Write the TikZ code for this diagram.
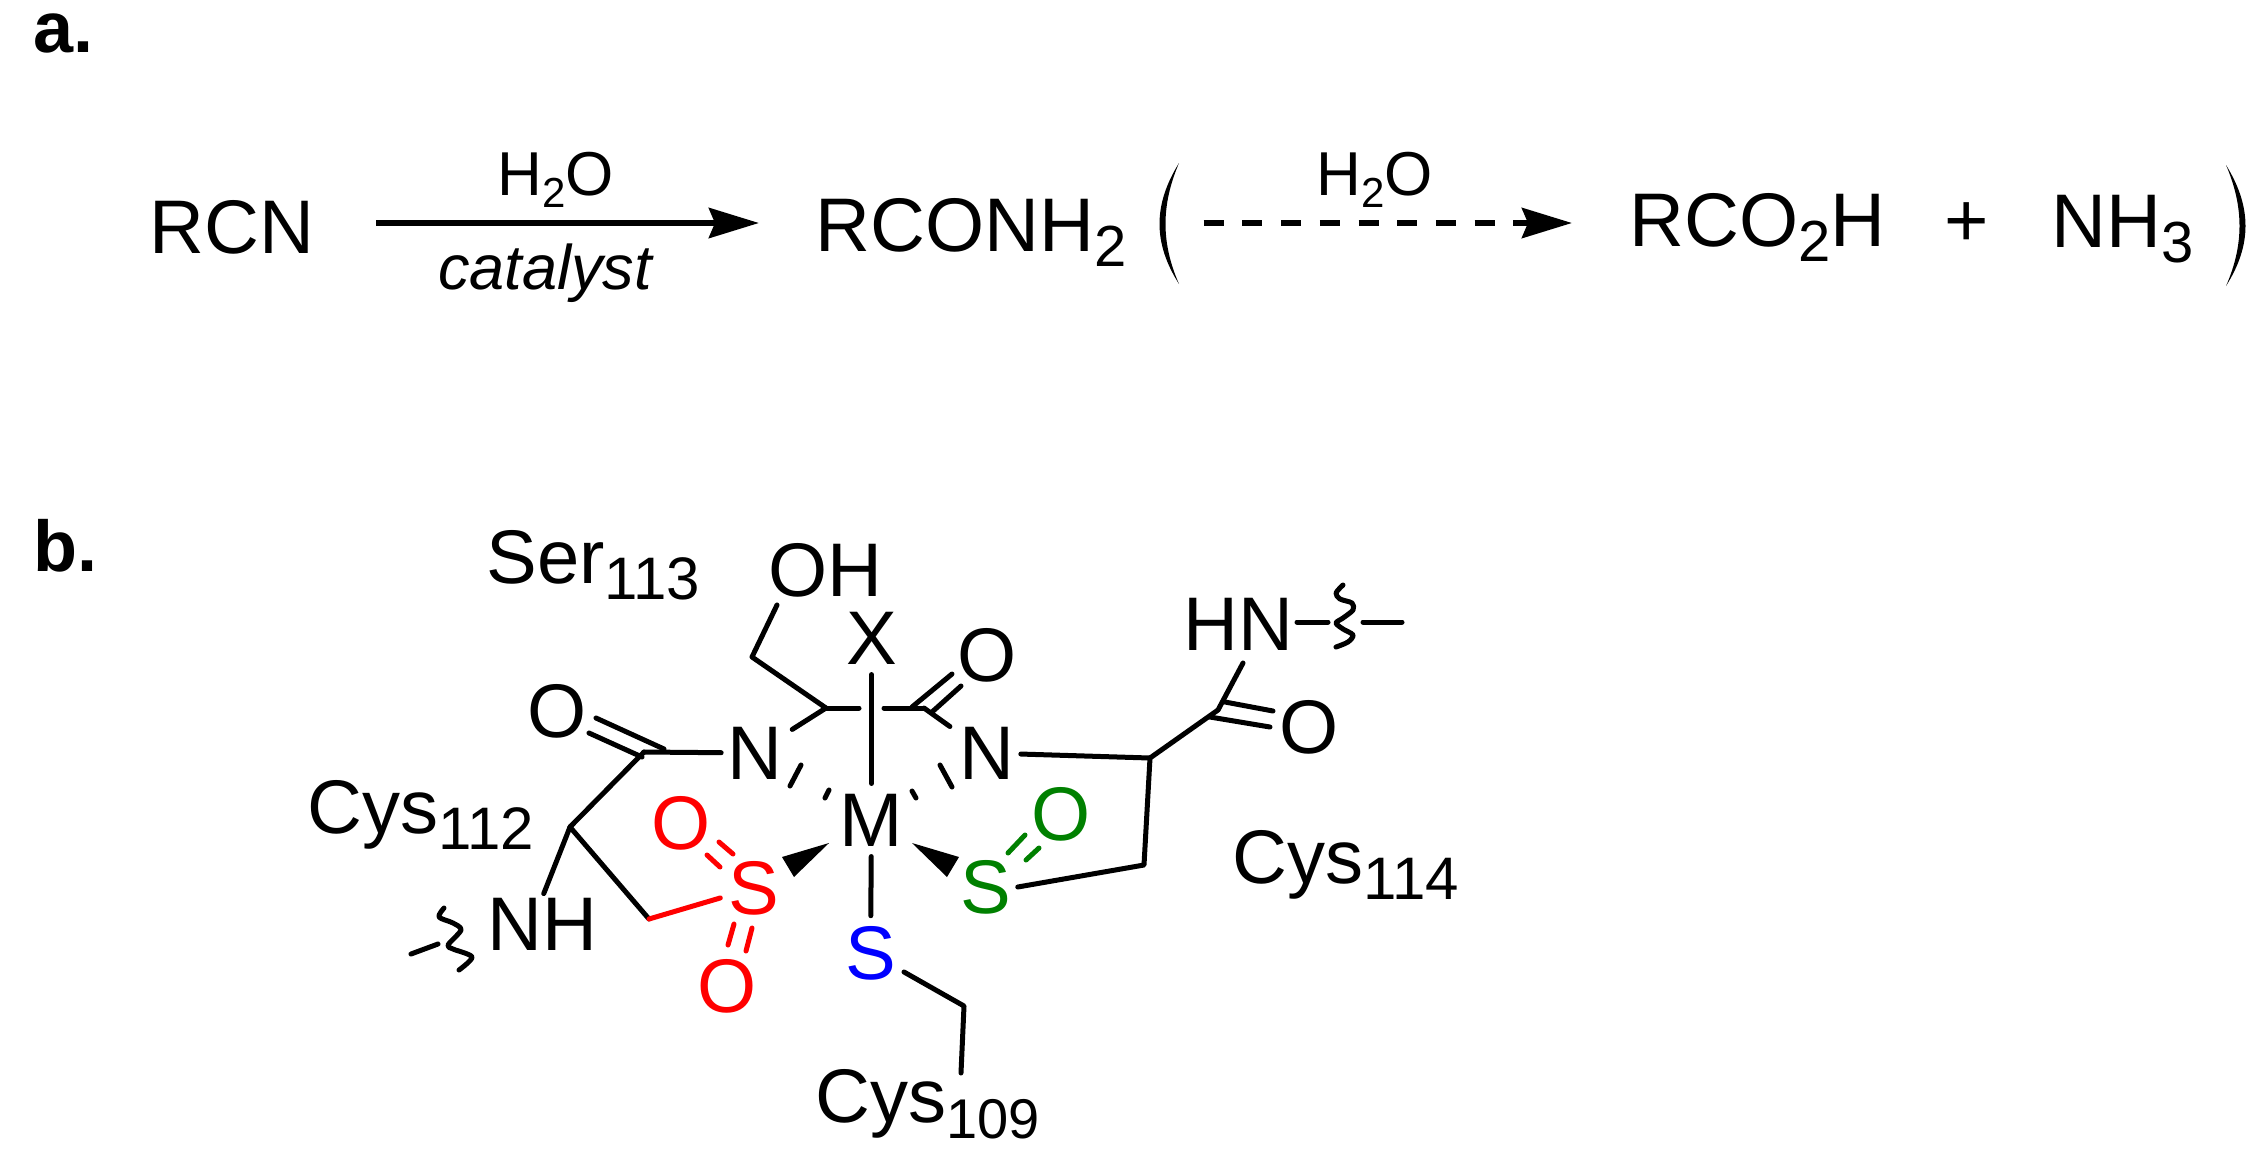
\documentclass[tikz,border=0pt]{standalone}
\usepackage{fontspec}
\setmainfont{Liberation Sans}
\usetikzlibrary{arrows.meta}
\newcommand{\chemsub}[3]{\lower#1\hbox{\fontsize{#2}{#2}\selectfont #3}}
\newcommand{\bigsub}[1]{\chemsub{8pt}{30}{#1}}
\newcommand{\rxnsub}[1]{\chemsub{7.5pt}{29}{#1}}
\newcommand{\smallsub}[1]{\chemsub{6pt}{21}{#1}}
\definecolor{sgreen}{RGB}{0,128,0}
\tikzset{
    bond/.style={line width=2.5pt,line cap=round,line join=round},
    atom/.style={font=\fontsize{38}{38}\selectfont,inner sep=3pt},
    chem/.style={font=\fontsize{38}{38}\selectfont,inner sep=0pt,anchor=base west},
    rxn/.style={font=\fontsize{38}{38}\selectfont,inner sep=0pt,anchor=base west},
    over/.style={font=\fontsize{31}{31}\selectfont,inner sep=0pt,anchor=base west},
    panel/.style={font=\fontsize{36}{36}\selectfont\bfseries,inner sep=0pt,anchor=base west},
    rxnarrow/.style={line width=3pt,-{Stealth[length=25pt,width=15pt,inset=3pt]}}
}
\begin{document}
\begin{tikzpicture}[x=0.5pt,y=-0.5pt]
    \useasboundingbox (0,0) rectangle (2250,1158);
    % panel a
    \node[panel] (lbla) at (33,52) {a.};
    \node[rxn] (rcn) at (149,253) {RCN};
    \node[over] (wata) at (497,195) {H\smallsub{2}O};
    \node[font=\fontsize{31.5}{31.5}\selectfont\itshape,inner sep=0pt,anchor=base west] (cat) at (438,289) {catalyst};
    \node[rxn] (rconh) at (815,251) {RCONH\rxnsub{2}};
    \node[over] (watb) at (1316,195) {H\smallsub{2}O};
    \node[rxn] (rcoh) at (1629,246) {RCO\rxnsub{2}H};
    \node[rxn] (plus) at (1944,246) {+};
    \node[rxn] (nhthree) at (2051,247) {NH\rxnsub{3}};
    \coordinate (rowa) at (0,223);
    \draw[rxnarrow,shorten <=31pt,shorten >=28pt] (rcn.east |- rowa) -- (rconh.west |- rowa);
    \draw[rxnarrow,dash pattern=on 10pt off 9.35pt,shorten <=38.5pt,shorten >=28.5pt] (rconh.east |- rowa) -- (rcoh.west |- rowa);
    % brackets
    \fill (1179,163) .. controls (1153,205) and (1153,243) .. (1179,284)
        .. controls (1161,243) and (1161,205) .. (1179,163);
    \fill (2226,165) .. controls (2252,207) and (2252,245) .. (2226,286)
        .. controls (2244,245) and (2244,207) .. (2226,165);
    % panel b
    \node[panel] (lblb) at (33,571) {b.};
    \node[chem] (ser) at (486,583) {Ser\bigsub{113}};
    \node[chem] (cysa) at (307,833) {Cys\bigsub{112}};
    \node[chem] (cysb) at (815,1122) {Cys\chemsub{8pt}{28}{109}};
    \node[chem] (cysc) at (1232,883) {Cys\bigsub{114}};
    \node[chem] (oh) at (768,596) {OH};
    \node[chem] (nh) at (487,950) {NH};
    \node[chem] (hn) at (1183,650) {HN};
    \node[atom] (x) at (871.5,638) {X};
    \node[atom] (oa) at (557,711) {O};
    \node[atom] (ob) at (987,655) {O};
    \node[atom] (oc) at (1309,727) {O};
    \node[atom] (na) at (755,753) {N};
    \node[atom] (nb) at (987,753) {N};
    \node[atom] (m) at (871.5,820) {M};
    \node[atom,text=red] (sa) at (754,888) {S};
    \node[atom,text=red] (od) at (681,823) {O};
    \node[atom,text=red] (oe) at (727,986) {O};
    \node[atom,text=blue] (sb) at (870.5,953) {S};
    \node[atom,text=sgreen] (sc) at (986,887) {S};
    \node[atom,text=sgreen] (of) at (1061,814) {O};
    % skeleton points
    \foreach \nm/\px/\py in {ca/644/752,cb/570/827,cc/649/919,cd/752/657,ce/826/708,
        ceb/859/708,cfb/884/708,cf/924/708,cg/1150/758,ch/1144/865,ci/1218/710,
        cj/964/1006,ck/961/1073,ohb/777/605,hnb/1243/663}
        \coordinate (\nm) at (\px,\py);
    % double bond strands
    \foreach \nm/\px/\py in {oaa/596/718,oab/664/749,oac/589/733,oad/642/757,
        oba/912/707,obb/952/674,obc/932/712,obd/961/686,
        oca/1225/702,ocb/1273/711,occ/1210/717,ocd/1270/727,
        oda/719/842,odb/733/854,odc/707/855,odd/720/867,
        oea/734/924,oeb/728/945,oec/752/928,oed/746/951,
        ofa/1008/853,ofb/1025/835,ofc/1026/860,ofd/1039/848}
        \coordinate (\nm) at (\px,\py);
    % hashed bond pieces
    \foreach \nm/\px/\py in {ha/801/765,hb/790/786,hc/829/790,hd/825/798,
        he/940/765,hf/952/787,hg/912/791,hh/916/798}
        \coordinate (\nm) at (\px,\py);
    % wedge corners
    \foreach \nm/\px/\py in {wa/829/843,wb/782/857,wc/794/877,wd/912/843,we/959/857,wf/947/877}
        \coordinate (\nm) at (\px,\py);
    % open ends
    \foreach \nm/\px/\py in {da/411/954,db/438/944,dc/1297/622,dd/1328/622,de/1363/622,df/1402/622}
        \coordinate (\nm) at (\px,\py);
    % backbone
    \draw[bond] (ca) -- (na);
    \draw[bond] (ca) -- (cb);
    \draw[bond,shorten >=2pt] (cb) -- (nh.north);
    \draw[bond] (cb) -- (cc);
    \draw[bond] (ohb) -- (cd) -- (ce);
    \draw[bond,shorten >=2pt] (ce) -- (na);
    \draw[bond] (ce) -- (ceb);
    \draw[bond] (cfb) -- (cf);
    \draw[bond,shorten >=2pt] (cf) -- (nb);
    \draw[bond] (nb) -- (cg);
    \draw[bond] (cg) -- (ci);
    \draw[bond] (hnb) -- (ci);
    \draw[bond] (cg) -- (ch) -- (sc.east);
    \draw[bond,shorten <=1pt] (sb) -- (cj) -- (ck);
    \draw[bond,shorten <=2pt,shorten >=2pt] (x) -- (m);
    \draw[bond,shorten <=2pt,shorten >=2pt] (m) -- (sb);
    \draw[bond,red,shorten >=1pt] (cc) -- (sa);
    % double bonds
    \foreach \a/\b in {oaa/oab,oac/oad,oba/obb,obc/obd,oca/ocb,occ/ocd}
        \draw[bond] (\a) -- (\b);
    \foreach \a/\b in {oda/odb,odc/odd,oea/oeb,oec/oed}
        \draw[bond,red] (\a) -- (\b);
    \foreach \a/\b in {ofa/ofb,ofc/ofd}
        \draw[bond,sgreen] (\a) -- (\b);
    % hashed bonds
    \foreach \a/\b in {ha/hb,hc/hd,he/hf,hg/hh}
        \draw[bond] (\a) -- (\b);
    % wedges
    \fill (wa) -- (wb) -- (wc) -- cycle;
    \fill (wd) -- (we) -- (wf) -- cycle;
    % wavy ends
    \foreach \a/\b in {da/db,dc/dd,de/df}
        \draw[bond] (\a) -- (\b);
    \draw[bond] plot[smooth] coordinates {(444,908) (439,917) (453,923) (461,930) (448,945) (453,949) (472,957) (459,970)};
    \draw[bond] plot[smooth] coordinates {(1343,585) (1336,593) (1340,599) (1352,603) (1353,610) (1343,618) (1336,623) (1343,629) (1353,635) (1348,642) (1336,647)};
\end{tikzpicture}
\end{document}
